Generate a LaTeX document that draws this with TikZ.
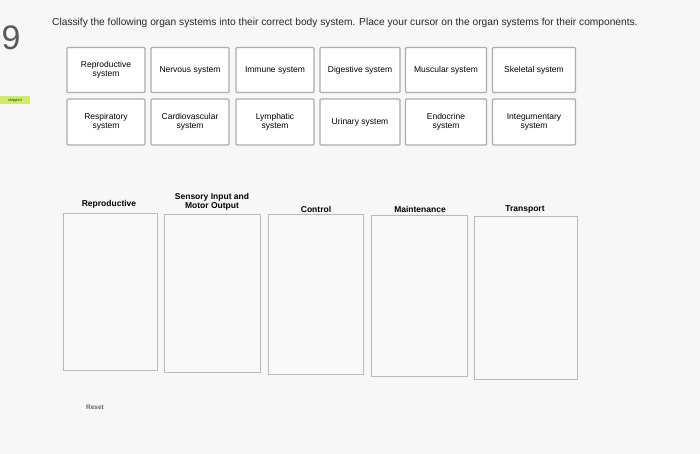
\documentclass[tikz,border=0pt]{standalone}
\usepackage{fontspec}
\setmainfont{Liberation Sans}
\begin{document}
\begin{tikzpicture}[x=1pt,y=-1pt,
  card/.style={draw=gray!65,line width=1.2pt,fill=white,rounded corners=1pt,align=center,font=\fontsize{8.5}{9}\selectfont,inner sep=0pt},
  head/.style={font=\bfseries\fontsize{8.5}{9}\selectfont,align=center,inner sep=0pt},
  drop/.style={draw=gray!55,line width=0.8pt,fill=gray!5}]
\fill[gray!6] (0,0) rectangle (700,454);
\useasboundingbox (0,0) rectangle (700,454);
\node[text=gray!70!black,font=\fontsize{34}{34}\selectfont,anchor=center,inner sep=0] (nine) at (11,38) {9};
\node[anchor=west,font=\fontsize{10.2}{11}\selectfont,text=black!85,inner sep=0] (q) at (52,23) {Classify the following organ systems into their correct body system. Place your cursor on the organ systems for their components.};
\node[fill=yellow!70!green!60,font=\fontsize{4}{4}\selectfont,text=green!40!black,minimum width=30,minimum height=8,inner sep=0] (sk) at (15,100) {skipped};
\foreach \n/\x/\w/\t in {a/106/78/{Reproductive\\system},b/190/78/{Nervous system},c/275/78/{Immune system},d/360/80/{Digestive system},e/446/81/{Muscular system},f/534/83/{Skeletal system}}
  \node[card,minimum width=\w,minimum height=45] (r1\n) at (\x,70) {\t};
\foreach \n/\x/\w/\t in {a/106/78/{Respiratory\\system},b/190/78/{Cardiovascular\\system},c/275/78/{Lymphatic\\system},d/360/80/{Urinary system},e/446/81/{Endocrine\\system},f/534/83/{Integumentary\\system}}
  \node[card,minimum width=\w,minimum height=46] (r2\n) at (\x,122) {\t};
\node[head] (h1) at (109,204) {Reproductive};
\node[head] (h2) at (212,202) {Sensory Input and\\Motor Output};
\node[head] (h3) at (316,209) {Control};
\node[head] (h4) at (420,209) {Maintenance};
\node[head] (h5) at (525,209) {Transport};
\draw[drop] (63,213) rectangle (157,370);
\draw[drop] (164,214) rectangle (260,372);
\draw[drop] (268,214) rectangle (363,374);
\draw[drop] (371,215) rectangle (467,376);
\draw[drop] (474,216) rectangle (577,379);
\node[font=\bfseries\fontsize{6.5}{7}\selectfont,text=gray!80!black] (reset) at (95,407) {Reset};
\end{tikzpicture}
\end{document}
